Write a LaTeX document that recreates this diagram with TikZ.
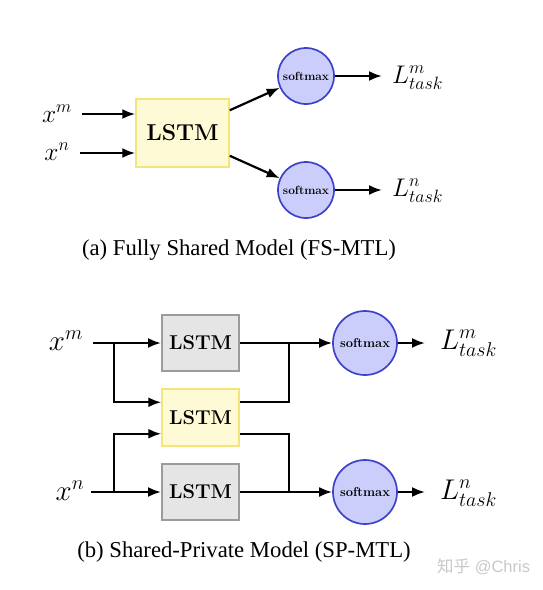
\RequirePackage{fix-cm}
\documentclass[tikz,border=0pt]{standalone}
\usepackage{fontspec}
\newfontfamily\capfont{Liberation Serif}
\newfontfamily\cjkfont{Noto Sans CJK SC}
\newfontfamily\wmfont{Liberation Sans}
\usetikzlibrary{arrows.meta}
\definecolor{yfill}{RGB}{255,250,214}
\definecolor{ydraw}{RGB}{245,228,120}
\definecolor{gfill}{RGB}{229,229,229}
\definecolor{gdraw}{RGB}{155,155,155}
\definecolor{cfill}{RGB}{203,206,250}
\definecolor{cdraw}{RGB}{62,66,200}
\definecolor{wmgray}{RGB}{200,200,200}
\begin{document}
\begin{tikzpicture}[x=1pt,y=-1pt,
  arr/.style={line width=2.2pt,-{Latex[length=13pt,width=10pt]}},
  ln/.style={line width=2.2pt},
  ybox/.style={draw=ydraw,fill=yfill,line width=1.5pt,inner sep=0pt},
  gbox/.style={draw=gdraw,fill=gfill,line width=2pt,inner sep=0pt},
  smax/.style={circle,draw=cdraw,fill=cfill,line width=1.7pt,inner sep=0pt},
  lab/.style={inner sep=0pt},
  capt/.style={inner sep=0pt,anchor=base,font=\capfont\fontsize{22.7}{26}\selectfont}]
\path[use as bounding box] (0,0) rectangle (542,590);

% ---------- (a) ----------
\node[ybox,minimum width=93pt,minimum height=68pt,font=\fontsize{23}{27}\selectfont\bfseries] (A) at (182.5,133) {LSTM};
\node[smax,minimum size=56pt,font=\fontsize{11.9}{13}\selectfont\bfseries] (sa1) at (306,76) {softmax};
\node[smax,minimum size=56pt,font=\fontsize{11.9}{13}\selectfont\bfseries] (sa2) at (306,190) {softmax};
\node[lab,anchor=base,font=\fontsize{25.5}{30}\selectfont] (xam) at (57,122) {$x^m$};
\node[lab,anchor=base,font=\fontsize{25.5}{30}\selectfont] (xan) at (57,160) {$x^n$};
\node[lab,anchor=base west,font=\fontsize{25.5}{30}\selectfont] (Lam) at (392,83) {$L^m_{task}$};
\node[lab,anchor=base west,font=\fontsize{25.5}{30}\selectfont] (Lan) at (392,196) {$L^n_{task}$};
\coordinate (am) at (82,114);
\coordinate (an) at (80,153);
\coordinate (ea1) at (382,76);
\coordinate (ea2) at (382,190);
\draw[arr] (am) -- (am -| A.west);
\draw[arr] (an) -- (an -| A.west);
\draw[arr] ([yshift=-12pt]A.north east) -- (sa1);
\draw[arr] ([yshift=12pt]A.south east) -- (sa2);
\draw[arr] (sa1) -- (ea1);
\draw[arr] (sa2) -- (ea2);
\node[capt] (capa) at (239,255) {(a) Fully Shared Model (FS-MTL)};

% ---------- (b) ----------
\node[gbox,minimum width=77pt,minimum height=56pt,font=\fontsize{20}{24}\selectfont\bfseries] (P1) at (200.5,343) {LSTM};
\node[ybox,minimum width=77pt,minimum height=57pt,font=\fontsize{20}{24}\selectfont\bfseries] (S) at (200.5,417.5) {LSTM};
\node[gbox,minimum width=77pt,minimum height=56pt,font=\fontsize{20}{24}\selectfont\bfseries] (P2) at (200.5,492) {LSTM};
\node[smax,minimum size=64pt,font=\fontsize{12.9}{14}\selectfont\bfseries] (sb1) at (365,343) {softmax};
\node[smax,minimum size=64pt,font=\fontsize{12.9}{14}\selectfont\bfseries] (sb2) at (365,492) {softmax};
\node[lab,anchor=base,font=\fontsize{29}{34}\selectfont] (xbm) at (66,350) {$x^m$};
\node[lab,anchor=base,font=\fontsize{29}{34}\selectfont] (xbn) at (70,500) {$x^n$};
\node[lab,anchor=base west,font=\fontsize{28.5}{34}\selectfont] (Lbm) at (440,349) {$L^m_{task}$};
\node[lab,anchor=base west,font=\fontsize{28.5}{34}\selectfont] (Lbn) at (440,499) {$L^n_{task}$};
\coordinate (bm) at (93,343);
\coordinate (bn) at (91,492);
\coordinate (jm) at (114,343);
\coordinate (jn) at (114,492);
\coordinate (k1) at (289,343);
\coordinate (k2) at (289,492);
\coordinate (eb1) at (425,343);
\coordinate (eb2) at (425,492);
\draw[arr] (bm) -- (P1.west);
\draw[arr] (jm) |- ([yshift=-14pt]S.north west);
\draw[arr] (bn) -- (P2.west);
\draw[arr] (jn) |- ([yshift=13pt]S.south west);
\draw[arr] (P1.east) -- (sb1);
\draw[arr] (P2.east) -- (sb2);
\draw[ln] ([yshift=-14pt]S.north east) -| (k1);
\draw[ln] ([yshift=13pt]S.south east) -| (k2);
\draw[arr] (sb1) -- (eb1);
\draw[arr] (sb2) -- (eb2);
\node[capt] (capb) at (244,557) {(b) Shared-Private Model (SP-MTL)};
\node[inner sep=0pt,anchor=base west,text=wmgray,font=\wmfont\fontsize{16.5}{19}\selectfont] (wm) at (437,572) {{\cjkfont 知乎} @Chris};
\end{tikzpicture}
\end{document}
